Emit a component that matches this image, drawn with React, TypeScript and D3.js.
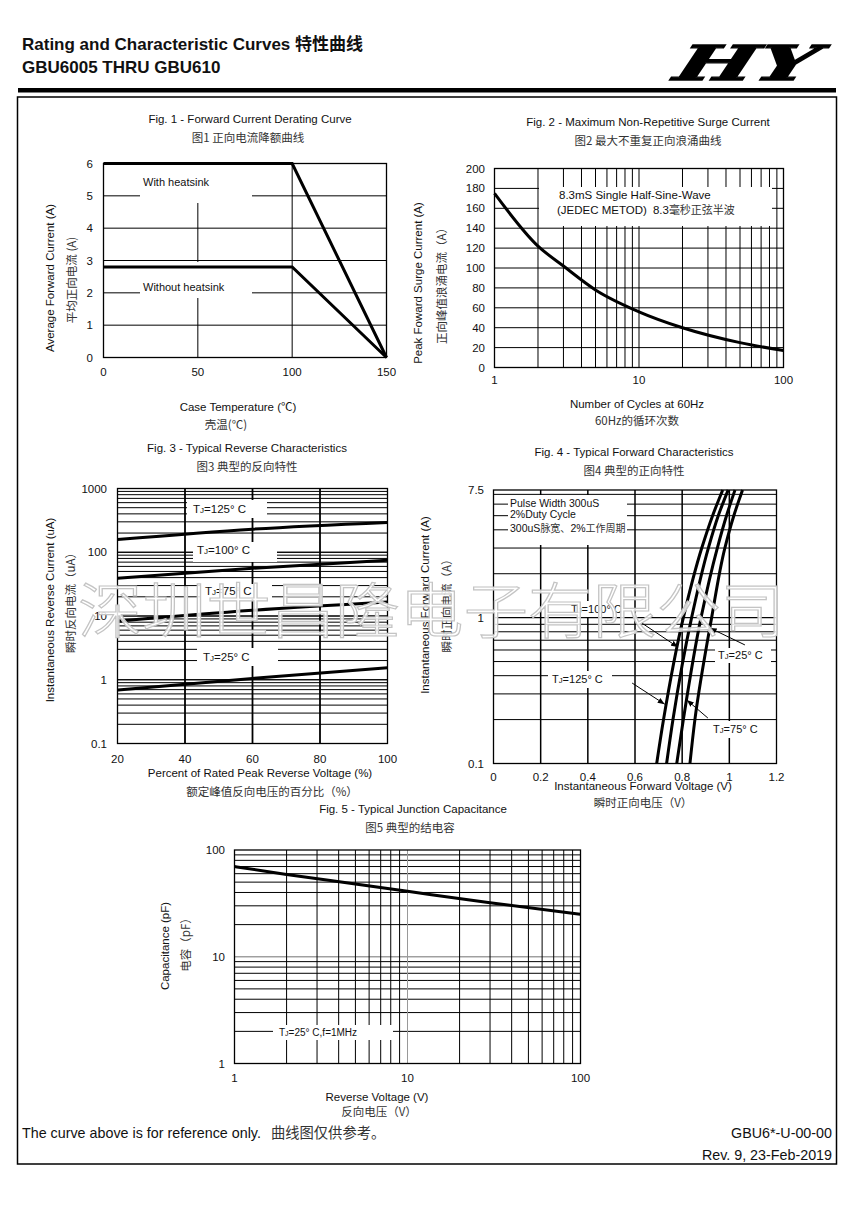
import React from "react";
import * as d3 from "d3";

// ---- data ----
const fig1Temp = [0, 100, 150];
const fig1WithSink = [6, 6, 0];
const fig1WithoutSink = [2.8, 2.8, 0];
const fig1XTicks = [0, 50, 100, 150];
const fig1YTicks = [0, 1, 2, 3, 4, 5, 6];

const fig2Cycles = [1, 2, 3, 5, 10, 20, 50, 100];
const fig2Current = [175, 122, 102, 78, 56, 40, 25, 17];
const fig2XTicks = [1, 10, 100];
const fig2YTicks = [0, 20, 40, 60, 80, 100, 120, 140, 160, 180, 200];

const fig3Percent = [20, 60, 100];
const fig3Tj125 = [158, 230, 293];
const fig3Tj100 = [39, 56, 75];
const fig3Tj75 = [8.3, 12.3, 16.6];
const fig3Tj25 = [0.69, 1.05, 1.54];
const fig3XTicks = [20, 40, 60, 80, 100];
const fig3YTicks = [0.1, 1, 10, 100, 1000];

const fig4Current = [0.1, 0.2, 1, 3, 5, 7.5];
const fig4Tj125 = [0.692, 0.721, 0.805, 0.883, 0.929, 0.972];
const fig4Tj100 = [0.734, 0.761, 0.84, 0.911, 0.953, 0.995];
const fig4Tj75 = [0.777, 0.805, 0.88, 0.949, 0.988, 1.024];
const fig4Tj25 = [0.833, 0.854, 0.925, 0.981, 1.019, 1.056];
const fig4XTicks = [0, 0.2, 0.4, 0.6, 0.8, 1, 1.2];
const fig4YTicks = [0.1, 1, 7.5];

const fig5Voltage = [1, 2, 5, 10, 30, 100];
const fig5Cap = [70, 59, 48, 41, 32, 25];
const fig5XTicks = [1, 10, 100];
const fig5YTicks = [1, 10, 100];

const LATIN = "'Liberation Sans', Arial, 'Noto Sans CJK SC', sans-serif";
const CJK = "'Noto Sans CJK SC', 'Liberation Sans', sans-serif";
const FS = 11.5;
const FS_CN = 11.5;

// 1..9 x each decade inside [lo, hi]
function logGrid(lo: number, hi: number) {
  const out: number[] = [];
  for (let e = Math.floor(Math.log10(lo)); e <= Math.ceil(Math.log10(hi)); e++) {
    for (let k = 1; k <= 9; k++) {
      const v = k * Math.pow(10, e);
      if (v > lo * 1.0001 && v < hi * 0.9999) out.push(v);
    }
  }
  return out;
}

const T = ({ x, y, children, anchor = "middle", size = FS, cn = false, fill }: any) => (
  <text
    x={x}
    y={y}
    dy="0.35em"
    textAnchor={anchor}
    fontSize={size}
    fontFamily={cn ? CJK : LATIN}
    fill={fill ?? (cn ? "#333" : "#111")}
  >
    {children}
  </text>
);

const VT = ({ x, y, children, cn = false, size = FS }: any) => (
  <text
    transform={`translate(${x},${y}) rotate(-90)`}
    dy="0.35em"
    textAnchor="middle"
    fontSize={size}
    fontFamily={cn ? CJK : LATIN}
    fill={cn ? "#333" : "#111"}
  >
    {children}
  </text>
);

const Tj = ({ x, y, t, size = 11, extra = "" }: any) => (
  <text x={x} y={y} dy="0.35em" fontSize={size} fontFamily={LATIN} fill="#111">
    T<tspan fontSize={size * 0.7}>J</tspan>={t}° C{extra}
  </text>
);

const Box = ({ x, y, w, h }: any) => <rect x={x} y={y} width={w} height={h} fill="#fff" />;

function Fig1() {
  const x = d3.scaleLinear().domain([0, 150]).range([103.5, 386.5]);
  const y = d3.scaleLinear().domain([0, 6]).range([357.5, 163.5]);
  const line = d3
    .line<number>()
    .x((_, i) => x(fig1Temp[i]))
    .y((d) => y(d));
  return (
    <g>
      {fig1YTicks.map((t) => (
        <line key={t} x1={x(0)} x2={x(150)} y1={y(t)} y2={y(t)} stroke="#000" strokeWidth={1} />
      ))}
      {fig1XTicks.slice(1, -1).map((t) => (
        <line key={t} x1={x(t)} x2={x(t)} y1={y(0)} y2={y(6)} stroke="#000" strokeWidth={1} />
      ))}
      <Box x={140} y={164} w={112} h={39} />
      <Box x={140} y={262} w={112} h={36} />
      <rect x={x(0)} y={y(6)} width={x(150) - x(0)} height={y(0) - y(6)} fill="none" stroke="#000" strokeWidth={1.3} />
      <path d={line(fig1WithSink) ?? ""} fill="none" stroke="#000" strokeWidth={3} />
      <path d={line(fig1WithoutSink) ?? ""} fill="none" stroke="#000" strokeWidth={3} />
      <T x={143} y={182} anchor="start" size={11}>With heatsink</T>
      <T x={143} y={287} anchor="start" size={11}>Without heatsink</T>
      {fig1YTicks.map((t) => (
        <T key={t} x={93} y={y(t)} anchor="end">{t}</T>
      ))}
      {fig1XTicks.map((t) => (
        <T key={t} x={x(t)} y={372}>{t}</T>
      ))}
      <T x={250} y={119}>Fig. 1 - Forward Current Derating Curve</T>
      <T x={248} y={138} cn size={FS_CN}>图1 正向电流降额曲线</T>
      <T x={238} y={407}>Case Temperature (℃)</T>
      <T x={226} y={425} cn size={FS_CN}>壳温(℃)</T>
      <VT x={50} y={278}>Average Forward Current (A)</VT>
      <VT x={72} y={280} cn size={FS_CN}>平均正向电流 (A)</VT>
    </g>
  );
}

function Fig2() {
  const x = d3.scaleLog().domain([1, 100]).range([494.5, 783.5]);
  const y = d3.scaleLinear().domain([0, 200]).range([367.5, 168.5]);
  const line = d3
    .line<number>()
    .x((_, i) => x(fig2Cycles[i]))
    .y((d) => y(d))
    .curve(d3.curveMonotoneX);
  return (
    <g>
      {fig2YTicks.map((t) => (
        <line key={t} x1={x(1)} x2={x(100)} y1={y(t)} y2={y(t)} stroke="#000" strokeWidth={1} />
      ))}
      {logGrid(1, 100).map((t) => (
        <line key={t} x1={x(t)} x2={x(t)} y1={y(0)} y2={y(200)} stroke="#000" strokeWidth={1} />
      ))}
      <Box x={539} y={187} w={233} h={39} />
      <rect x={x(1)} y={y(200)} width={x(100) - x(1)} height={y(0) - y(200)} fill="none" stroke="#000" strokeWidth={1.3} />
      <path d={line(fig2Current) ?? ""} fill="none" stroke="#000" strokeWidth={3} />
      <T x={559} y={195} anchor="start" size={11.5}>8.3mS Single Half-Sine-Wave</T>
      <text x={557} y={210} dy="0.35em" fontSize={11.5} fontFamily={LATIN} fill="#111">
        (JEDEC METOD)<tspan dx={6}>8.3</tspan><tspan fontFamily={CJK} fill="#333" fontSize={11}>毫秒正弦半波</tspan>
      </text>
      {fig2YTicks.map((t) => (
        <T key={t} x={485} y={y(t)} anchor="end">{t}</T>
      ))}
      {fig2XTicks.map((t) => (
        <T key={t} x={x(t)} y={380}>{t}</T>
      ))}
      <T x={648} y={122}>Fig. 2 - Maximum Non-Repetitive Surge Current</T>
      <T x={648} y={141} cn size={FS_CN}>图2  最大不重复正向浪涌曲线</T>
      <T x={637} y={404}>Number of Cycles at 60Hz</T>
      <T x={637} y={421} cn size={FS_CN}>60Hz的循环次数</T>
      <VT x={418} y={283}>Peak Foward Surge Current (A)</VT>
      <VT x={442} y={283} cn size={FS_CN}>正向峰值浪涌电流（A）</VT>
    </g>
  );
}

function Fig3() {
  const x = d3.scaleLinear().domain([20, 100]).range([117.5, 387.5]);
  const y = d3.scaleLog().domain([0.1, 1000]).range([743.5, 488.5]);
  const line = d3
    .line<number>()
    .x((_, i) => x(fig3Percent[i]))
    .y((d) => y(d))
    .curve(d3.curveMonotoneX);
  const series = [fig3Tj125, fig3Tj100, fig3Tj75, fig3Tj25];
  return (
    <g>
      {[...logGrid(0.1, 1000), 1, 10, 100].map((t) => (
        <line key={t} x1={x(20)} x2={x(100)} y1={y(t)} y2={y(t)} stroke="#000" strokeWidth={1} />
      ))}
      {fig3XTicks.slice(1, -1).map((t) => (
        <line key={t} x1={x(t)} x2={x(t)} y1={y(0.1)} y2={y(1000)} stroke="#000" strokeWidth={1.8} />
      ))}
      <Box x={187} y={500} w={80} h={18} />
      <Box x={193} y={542} w={84} h={20} />
      <Box x={200} y={584} w={72} h={15} />
      <Box x={197} y={648} w={81} h={18} />
      <rect x={x(20)} y={y(1000)} width={x(100) - x(20)} height={y(0.1) - y(1000)} fill="none" stroke="#000" strokeWidth={1.3} />
      {series.map((s, i) => (
        <path key={i} d={line(s) ?? ""} fill="none" stroke="#000" strokeWidth={3} />
      ))}
      <Tj x={193} y={509} t="125" size={11.5} />
      <Tj x={197} y={550} t="100" size={11.5} />
      <Tj x={205} y={591} t="75" size={11.5} />
      <Tj x={203} y={657} t="25" size={11.5} />
      {fig3YTicks.map((t) => (
        <T key={t} x={107} y={y(t)} anchor="end">{t}</T>
      ))}
      {fig3XTicks.map((t) => (
        <T key={t} x={x(t)} y={759}>{t}</T>
      ))}
      <T x={247} y={448}>Fig. 3 - Typical Reverse Characteristics</T>
      <T x={247} y={467} cn size={FS_CN}>图3  典型的反向特性</T>
      <T x={260} y={773}>Percent of Rated Peak Reverse Voltage (%)</T>
      <T x={272} y={792} cn size={FS_CN}>额定峰值反向电压的百分比（%）</T>
      <VT x={50} y={610}>Instantaneous Reverse Current (uA)</VT>
      <VT x={71} y={600} cn size={FS_CN}>瞬时反向电流（uA）</VT>
    </g>
  );
}

function Fig4() {
  const x = d3.scaleLinear().domain([0, 1.2]).range([493.5, 776.5]);
  const y = d3.scaleLog().domain([0.1, 7.5]).range([763.5, 490]);
  const line = d3
    .line<number>()
    .x((d) => x(d))
    .y((_, i) => y(fig4Current[i]))
    .curve(d3.curveMonotoneY);
  const series = [fig4Tj125, fig4Tj100, fig4Tj75, fig4Tj25];
  // arrows: [fromV, fromI, toV, toI]
  const arrows = [
    [0.629, 0.918, 0.782, 0.628],
    [1.066, 0.65, 0.917, 0.85],
    [0.588, 0.356, 0.726, 0.255],
    [0.909, 0.205, 0.82, 0.272],
  ];
  return (
    <g>
      <defs>
        <marker id="ah" viewBox="0 0 10 10" refX="10" refY="5" markerWidth="7" markerHeight="7" orient="auto-start-reverse" markerUnits="userSpaceOnUse">
          <path d="M0,1 L10,5 L0,9 Z" fill="#000" />
        </marker>
      </defs>
      {[...logGrid(0.1, 7.5), 1].map((t) => (
        <line key={t} x1={x(0)} x2={x(1.2)} y1={y(t)} y2={y(t)} stroke="#000" strokeWidth={1} />
      ))}
      {fig4XTicks.slice(1, -1).map((t) => (
        <line key={t} x1={x(t)} x2={x(t)} y1={y(0.1)} y2={y(7.5)} stroke="#000" strokeWidth={1.5} />
      ))}
      <Box x={508} y={495} w={119} h={50} />
      <Box x={567} y={601} w={63} h={16} />
      <Box x={715} y={648} w={56} h={15} />
      <Box x={548} y={671} w={64} h={17} />
      <Box x={711} y={721} w={57} h={17} />
      <rect x={x(0)} y={y(7.5)} width={x(1.2) - x(0)} height={y(0.1) - y(7.5)} fill="none" stroke="#000" strokeWidth={1.3} />
      {series.map((s, i) => (
        <path key={i} d={line(s) ?? ""} fill="none" stroke="#000" strokeWidth={3} />
      ))}
      {arrows.map((a, i) => (
        <line key={i} x1={x(a[0])} y1={y(a[1])} x2={x(a[2])} y2={y(a[3])} stroke="#000" strokeWidth={1} markerEnd="url(#ah)" />
      ))}
      <T x={510} y={503} anchor="start" size={10.5}>Pulse Width 300uS</T>
      <T x={510} y={514} anchor="start" size={10.5}>2%Duty Cycle</T>
      <text x={510} y={528} dy="0.35em" fontSize={10.5} fontFamily={LATIN} fill="#111">
        300uS<tspan fontFamily={CJK} fill="#333" fontSize={10}>脉宽、</tspan>2%<tspan fontFamily={CJK} fill="#333" fontSize={10}>工作周期</tspan>
      </text>
      <Tj x={571} y={609} t="100" />
      <Tj x={718} y={655} t="25" />
      <Tj x={552} y={679} t="125" />
      <Tj x={713} y={729} t="75" />
      {fig4YTicks.map((t) => (
        <T key={t} x={484} y={y(t)} anchor="end">{t}</T>
      ))}
      {fig4XTicks.map((t) => (
        <T key={t} x={x(t)} y={777}>{t}</T>
      ))}
      <T x={634} y={452}>Fig. 4 - Typical Forward Characteristics</T>
      <T x={634} y={471} cn size={FS_CN}>图4  典型的正向特性</T>
      <T x={643} y={786}>Instantaneous Forward Voltage (V)</T>
      <T x={643} y={803} cn size={FS_CN}>瞬时正向电压（V）</T>
      <VT x={425} y={605}>Instantaneous Forward Current (A)</VT>
      <VT x={447} y={603} cn size={FS_CN}>瞬时正向电流（A）</VT>
    </g>
  );
}

function Fig5() {
  const x = d3.scaleLog().domain([1, 100]).range([234.5, 580.5]);
  const y = d3.scaleLog().domain([1, 100]).range([1063.5, 850]);
  const line = d3
    .line<number>()
    .x((_, i) => x(fig5Voltage[i]))
    .y((d) => y(d))
    .curve(d3.curveMonotoneX);
  return (
    <g>
      {[...logGrid(1, 100), 10].map((t) => (
        <line key={t} x1={x(1)} x2={x(100)} y1={y(t)} y2={y(t)} stroke={t === 10 ? "#999" : "#000"} strokeWidth={1} />
      ))}
      {[...logGrid(1, 100), 10].map((t) => (
        <line key={t} x1={x(t)} x2={x(t)} y1={y(1)} y2={y(100)} stroke={t === 10 ? "#999" : "#000"} strokeWidth={1} />
      ))}
      <Box x={273} y={1025} w={120} h={15} />
      <rect x={x(1)} y={y(100)} width={x(100) - x(1)} height={y(1) - y(100)} fill="none" stroke="#000" strokeWidth={1.3} />
      <path d={line(fig5Cap) ?? ""} fill="none" stroke="#000" strokeWidth={3} />
      <Tj x={279} y={1032} t="25" extra=",f=1MHz" size={10} />
      {fig5YTicks.map((t) => (
        <T key={t} x={225} y={y(t)} anchor="end">{t}</T>
      ))}
      {fig5XTicks.map((t) => (
        <T key={t} x={x(t)} y={1078}>{t}</T>
      ))}
      <T x={413} y={809}>Fig. 5 - Typical Junction Capacitance</T>
      <T x={410} y={828} cn size={FS_CN}>图5  典型的结电容</T>
      <T x={377} y={1097}>Reverse Voltage (V)</T>
      <T x={379} y={1112} cn size={FS_CN}>反向电压（V）</T>
      <VT x={165} y={946}>Capacitance (pF)</VT>
      <VT x={186} y={942} cn size={FS_CN}>电容（pF）</VT>
    </g>
  );
}

export default function App() {
  return (
    <div style={{ position: "absolute", left: 0, top: 0 }}>
      <svg width={852} height={1207} viewBox="0 0 852 1207" style={{ display: "block", background: "#fff" }}>
        <rect width={852} height={1207} fill="#fff" />
        <text x={22} y={50} fontSize={17} fontWeight="bold" fontFamily={LATIN} fill="#111">
          Rating and Characteristic Curves <tspan fontFamily={CJK}>特性曲线</tspan>
        </text>
        <text x={22} y={73} fontSize={17} fontWeight="bold" fontFamily={LATIN} fill="#111">
          GBU6005 THRU GBU610
        </text>
        <text
          x={672}
          y={80}
          fontSize={48}
          fontWeight="bold"
          fontStyle="italic"
          fontFamily="'DejaVu Serif', serif"
          fill="#000"
          stroke="#000"
          strokeWidth={1.4}
          textLength={140}
          lengthAdjust="spacingAndGlyphs"
          transform="translate(26,0) skewX(-18)"
        >
          HY
        </text>
        <rect x={18} y={88} width={818} height={4.5} fill="#000" />
        <rect x={17.5} y={97} width={819} height={1067} fill="none" stroke="#000" strokeWidth={1.5} />

        <Fig1 />
        <Fig2 />
        <Fig3 />
        <Fig4 />
        <Fig5 />

        <text
          x={78}
          y={633}
          fontSize={60}
          fontFamily={CJK}
          fontWeight={300}
          fill="#fff"
          fillOpacity={0.85}
          stroke="#c4c4c4"
          strokeWidth={1.2}
          textLength={707}
          lengthAdjust="spacingAndGlyphs"
        >
          深圳世昌隆电子有限公司
        </text>

        <text x={22} y={1138} fontSize={14.3} fontFamily={LATIN} fill="#111">
          The curve above is for reference only.<tspan dx={10} fontFamily={CJK} fill="#333">曲线图仅供参考。</tspan>
        </text>
        <text x={832} y={1138} fontSize={14.3} textAnchor="end" fontFamily={LATIN} fill="#111">
          GBU6*-U-00-00
        </text>
        <text x={832} y={1160} fontSize={14.3} textAnchor="end" fontFamily={LATIN} fill="#111">
          Rev. 9, 23-Feb-2019
        </text>
      </svg>
    </div>
  );
}
